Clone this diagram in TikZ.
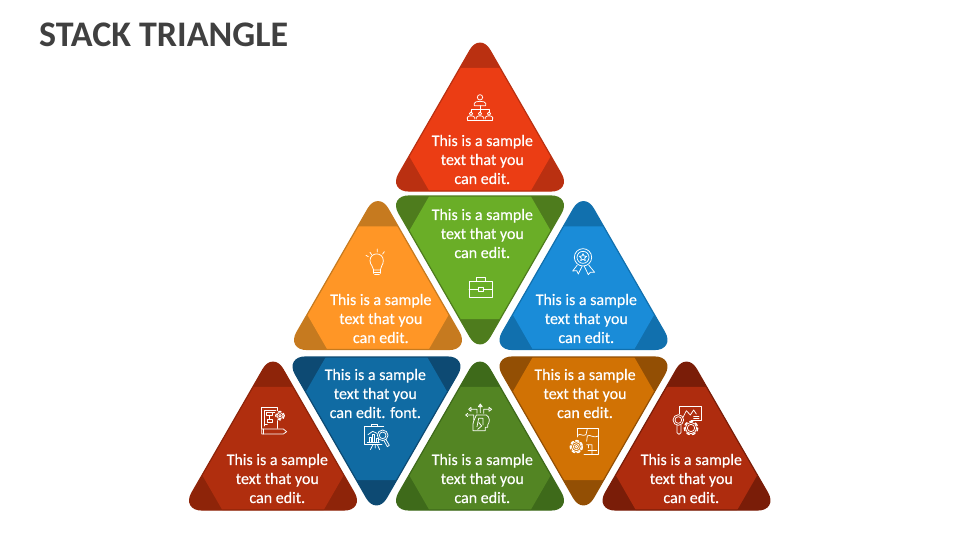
\documentclass[tikz,border=0pt]{standalone}
\usepackage{fontspec}
\setmainfont{Carlito}
\newfontfamily\bodyfont[FakeBold=0.35]{Carlito}
\usetikzlibrary{calc}
\definecolor{redL}{HTML}{EB3D14}\definecolor{redD}{HTML}{BA3011}
\definecolor{grnL}{HTML}{6AAE27}\definecolor{grnD}{HTML}{4E7C1D}
\definecolor{orgL}{HTML}{FF9626}\definecolor{orgD}{HTML}{C67A1F}
\definecolor{bluL}{HTML}{1A8CD8}\definecolor{bluD}{HTML}{1170AE}
\definecolor{brnL}{HTML}{B02E0E}\definecolor{brnD}{HTML}{8E2409}
\definecolor{dblL}{HTML}{106BA3}\definecolor{dblD}{HTML}{0D4A73}
\definecolor{g2L}{HTML}{538523}\definecolor{g2D}{HTML}{3E6A1A}
\definecolor{o2L}{HTML}{D17204}\definecolor{o2D}{HTML}{934F04}
\definecolor{r2L}{HTML}{AE2C0E}\definecolor{r2D}{HTML}{7A1D08}
\definecolor{titlegray}{HTML}{404040}
\tikzset{
  bodytext/.style={text=white,align=center,inner sep=0pt,font=\bodyfont\fontsize{16}{19}\selectfont},
  titletext/.style={text=titlegray,anchor=west,inner sep=0pt,font=\fontsize{36}{40}\bfseries\selectfont},
  iconline/.style={draw=white,line width=0.75pt,line cap=round,line join=round,fill=none},
}
% cx, base y, sign (-1 apex above, +1 apex below), light, dark
\newcommand{\tri}[5]{%
  \coordinate (A) at (#1,#2+#3*158);
  \coordinate (B) at (#1-91,#2);
  \coordinate (C) at (#1+91,#2);
  \begin{scope}
    \clip[rounded corners=20pt] (A) -- (B) -- (C) -- cycle;
    \fill[#5] (#1-100,#2-170) rectangle (#1+100,#2+170);
    \fill[#4] ($(A)!.2215!(B)$) -- ($(B)!.2215!(A)$) -- ($(B)!.2215!(C)$) -- ($(C)!.2215!(B)$) -- ($(C)!.2215!(A)$) -- ($(A)!.2215!(C)$) -- cycle;
  \end{scope}
  \draw[#5,line width=1.2pt,rounded corners=20pt] (A) -- (B) -- (C) -- cycle;
}
% icons are drawn in the pixel coordinates of a 150x135 crop
\newcommand{\iconat}[3]{\begin{scope}[shift={(#1,#2)},x=0.3333pt,y=-0.3333pt,iconline]#3\end{scope}}
\begin{document}
\begin{tikzpicture}[x=1pt,y=-1pt]
\useasboundingbox (0,0) rectangle (960,540);
\fill[white] (0,0) rectangle (960,540);
\node[titletext] (title) at (39,35) {STACK TRIANGLE};

\tri{480}{191}{-1}{redL}{redD}
\tri{480}{196}{1}{grnL}{grnD}
\tri{378}{349.5}{-1}{orgL}{orgD}
\tri{583.5}{349.5}{-1}{bluL}{bluD}
\tri{273}{510}{-1}{brnL}{brnD}
\tri{376.5}{357}{1}{dblL}{dblD}
\tri{480}{510}{-1}{g2L}{g2D}
\tri{583.5}{357}{1}{o2L}{o2D}
\tri{686.5}{510}{-1}{r2L}{r2D}

\node[bodytext] (t1) at (482.3,159.5) {This is a sample\\text that you\\can edit.};
\node[bodytext] (t2) at (482.3,233.5) {This is a sample\\text that you\\can edit.};
\node[bodytext] (t3) at (380.8,318.5) {This is a sample\\text that you\\can edit.};
\node[bodytext] (t4) at (586.3,318.5) {This is a sample\\text that you\\can edit.};
\node[bodytext] (t5) at (277.3,478.5) {This is a sample\\text that you\\can edit.};
\node[bodytext] (t6) at (375.3,393.5) {This is a sample\\text that you\\can edit. font.};
\node[bodytext] (t7) at (482.3,478.5) {This is a sample\\text that you\\can edit.};
\node[bodytext] (t8) at (585,393.5) {This is a sample\\text that you\\can edit.};
\node[bodytext] (t9) at (691.3,478.5) {This is a sample\\text that you\\can edit.};

% people hierarchy
\iconat{455}{85}{
  \draw (75,37) circle (8);
  \draw (58,62) -- (58,55) .. controls (58,47) and (92,47) .. (92,55) -- (92,62) -- cycle;
  \draw (75,62) -- (75,72) (48,80) -- (48,72) -- (102,72) -- (102,80) (75,72) -- (75,80);
  \foreach \c in {48,75,102}{\draw (\c,86) circle (5); \draw (\c-11,102) -- (\c-11,97) .. controls (\c-8,91) and (\c+8,91) .. (\c+11,97) -- (\c+11,102);}
  \draw (37,97) -- (37,105) -- (113,105) -- (113,97);
}
% briefcase
\begin{scope}[iconline]
  \draw (469,281) rectangle (492,297);
  \draw (476,281) -- (476,277) -- (485,277) -- (485,281);
  \draw (469,289) -- (478,289) (483,289) -- (492,289);
  \draw (478,287) rectangle (483,291);
\end{scope}
% bulb
\iconat{355}{240}{
  \draw (56,90) .. controls (56,78) and (45,76) .. (45,62) .. controls (45,35) and (85,35) .. (85,62) .. controls (85,76) and (76,78) .. (76,90) -- cycle;
  \draw (57,97) -- (75,97) (59,104) -- (73,104) (56,90) -- (56,100) (76,90) -- (76,100);
  \draw (67,27) -- (67,36) (45,37) -- (50,44) (88,35) -- (83,42) (33,46) -- (40,50);
}
% medal
\iconat{560}{240}{
  \draw (69,52) circle (26);
  \draw (69,52) circle (18);
  \draw (69,41) -- (72,48) -- (80,49) -- (74,54) -- (76,62) -- (69,58) -- (62,62) -- (64,54) -- (58,49) -- (66,48) -- cycle;
  \draw (52,75) -- (38,93) -- (50,92) -- (55,102) -- (66,79);
  \draw (86,75) -- (104,97) -- (91,97) -- (85,104) -- (73,79);
}
% plan with gear and pencil
\iconat{250}{400}{
  \draw (35,85) -- (35,22) -- (83,22) -- (83,32);
  \draw (42,78) -- (42,30) -- (78,30);
  \draw (50,38) rectangle (66,46) (58,46) -- (58,57) (52,57) rectangle (66,66);
  \draw[dash pattern=on 2pt off 3pt] (68,38) -- (80,38) (46,72) -- (60,72);
  \draw (90,47) circle (9) (90,47) circle (4);
  \draw[dash pattern=on 3pt off 3pt,line width=1.2pt] (90,47) circle (13);
  \draw (83,62) -- (83,85);
  \draw (35,85) -- (35,102) -- (100,102) -- (110,95) -- (100,87) -- (35,87);
  \draw (40,87) -- (40,102);
}
% presentation board with magnifier
\iconat{352}{418}{
  \draw (95,25) -- (37,25) -- (37,80) -- (90,80);
  \draw (58,25) -- (58,20) -- (76,20) -- (76,25);
  \draw (63,80) -- (55,95) (76,80) -- (83,95) (70,80) -- (70,90);
  \draw (52,72) -- (52,58) -- (58,58) -- (58,72) (62,72) -- (62,50) -- (68,50) -- (68,72) (72,72) -- (72,60) -- (78,60) -- (78,72) (46,73) -- (82,73);
  \draw (48,50) -- (62,40) -- (75,46);
  \draw (92,52) circle (16) (92,52) circle (10);
  \draw (102,65) -- (112,82) -- (106,86) -- (96,68);
}
% arrows and head
\iconat{457}{400}{
  \draw (70,14) -- (70,38) (64,20) -- (70,12) -- (76,20) -- cycle;
  \draw (60,40) -- (60,28) -- (42,28) (42,22) -- (35,28) -- (42,34) -- cycle;
  \draw (80,40) -- (80,28) -- (96,28) (96,22) -- (104,28) -- (96,34) -- cycle;
  \draw (50,60) -- (50,45) -- (32,45) (32,40) -- (26,45) -- (32,50);
  \draw (48,92) -- (48,72) .. controls (50,60) and (54,56) .. (58,45) -- (88,45) .. controls (98,50) and (100,65) .. (92,75) -- (92,82) -- (85,82) -- (85,92) -- cycle;
  \draw (60,80) -- (65,55) -- (78,55) -- (78,75) (66,68) -- (74,78) -- (62,88);
}
% puzzle and gear
\iconat{560}{422}{
  \draw (53,45) -- (53,20) -- (115,20) -- (115,98) -- (72,98);
  \draw (53,40) .. controls (62,32) and (66,45) .. (78,38) -- (82,20);
  \draw (82,42) .. controls (92,35) and (95,50) .. (115,42);
  \draw (82,42) -- (80,58) (80,68) -- (96,68) -- (96,98);
  \draw (84,78) -- (84,70) (84,84) -- (110,84);
  \draw (49,74) circle (9) (49,74) circle (4);
  \draw (49,74) circle (15);
  \draw[dash pattern=on 3pt off 2.5pt,line width=1.5pt] (49,74) circle (18);
}
% chart with magnifier and gear
\iconat{663}{400}{
  \draw (50,42) -- (50,20) -- (115,20) -- (115,62) -- (85,62);
  \draw (60,52) -- (70,32) -- (82,45) -- (92,30) -- (100,42);
  \draw (92,48) -- (108,48) (92,54) -- (108,54);
  \draw (46,60) circle (16) (46,60) circle (10);
  \draw (42,76) -- (42,98) .. controls (44,105) and (52,105) .. (54,98) -- (54,76);
  \draw (84,84) circle (11);
  \draw (84,84) circle (17);
  \draw[dash pattern=on 3pt off 3pt,line width=1.4pt] (84,84) circle (20);
}
\end{tikzpicture}
\end{document}
